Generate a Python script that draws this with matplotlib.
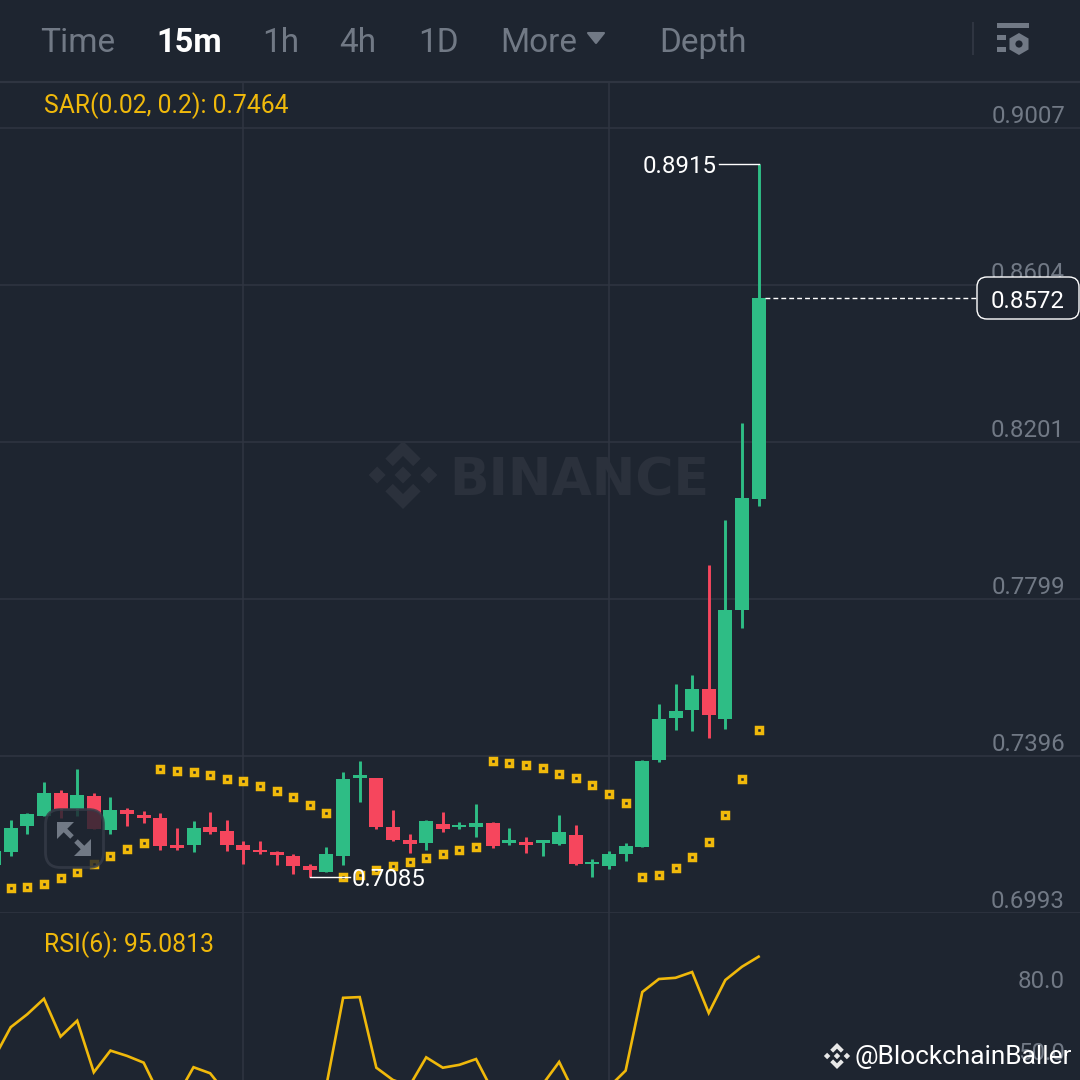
import numpy as np
import matplotlib
matplotlib.use("Agg")
import matplotlib.pyplot as plt
from matplotlib.patches import FancyBboxPatch, Polygon, Circle, Rectangle

plt.rcParams['font.family'] = ['Roboto', 'DejaVu Sans']

# candles, oldest first
opens = [0.7116, 0.7150, 0.7217, 0.7243, 0.7300, 0.7260, 0.7293, 0.7207, 0.7258, 0.7244,
         0.7237, 0.7167, 0.7167, 0.7213, 0.7203, 0.7168, 0.7155, 0.7150, 0.7140, 0.7114,
         0.7098, 0.7140, 0.7339, 0.7339, 0.7214, 0.7180, 0.7172, 0.7221, 0.7213, 0.7215,
         0.7224, 0.7173, 0.7176, 0.7173, 0.7170, 0.7193, 0.7118, 0.7114, 0.7144, 0.7162,
         0.7385, 0.7493, 0.7515, 0.7569, 0.7491, 0.7771, 0.8056]
highs = [0.7152, 0.7233, 0.7250, 0.7328, 0.7309, 0.7362, 0.7300, 0.7290, 0.7262, 0.7254,
         0.7249, 0.7210, 0.7229, 0.7251, 0.7233, 0.7178, 0.7177, 0.7152, 0.7144, 0.7118,
         0.7163, 0.7354, 0.7383, 0.7339, 0.7257, 0.7196, 0.7232, 0.7252, 0.7227, 0.7272,
         0.7226, 0.7211, 0.7188, 0.7180, 0.7244, 0.7220, 0.7131, 0.7152, 0.7173, 0.7386,
         0.7529, 0.7581, 0.7603, 0.7886, 0.8001, 0.8250, 0.8915]
lows = [0.7116, 0.7140, 0.7195, 0.7243, 0.7238, 0.7242, 0.7208, 0.7197, 0.7216, 0.7225,
        0.7154, 0.7155, 0.7150, 0.7197, 0.7152, 0.7119, 0.7144, 0.7117, 0.7094, 0.7085,
        0.7098, 0.7117, 0.7279, 0.7209, 0.7178, 0.7147, 0.7155, 0.7202, 0.7209, 0.7188,
        0.7161, 0.7167, 0.7147, 0.7140, 0.7167, 0.7117, 0.7086, 0.7107, 0.7127, 0.7162,
        0.7381, 0.7462, 0.7461, 0.7443, 0.7466, 0.7724, 0.8037]
closes = [0.7152, 0.7210, 0.7246, 0.7300, 0.7260, 0.7296, 0.7208, 0.7257, 0.7248, 0.7237,
          0.7166, 0.7160, 0.7211, 0.7202, 0.7167, 0.7155, 0.7149, 0.7141, 0.7113, 0.7103,
          0.7144, 0.7336, 0.7346, 0.7214, 0.7180, 0.7170, 0.7229, 0.7209, 0.7220, 0.7224,
          0.7166, 0.7180, 0.7168, 0.7180, 0.7200, 0.7120, 0.7125, 0.7144, 0.7164, 0.7383,
          0.7492, 0.7511, 0.7567, 0.7502, 0.7770, 0.8057, 0.8572]

# one value per candle, the first candle has none
sar = [0.7056, 0.7061, 0.7068, 0.7084, 0.7098, 0.7119, 0.7139, 0.7156, 0.7173,
       0.7362, 0.7357, 0.7354, 0.7346, 0.7338, 0.7331, 0.7318, 0.7306, 0.7291, 0.7271, 0.7249,
       0.7085, 0.7091, 0.7103, 0.7114, 0.7124, 0.7134, 0.7144, 0.7154, 0.7163,
       0.7383, 0.7379, 0.7374, 0.7365, 0.7351, 0.7339, 0.7321, 0.7298, 0.7276,
       0.7085, 0.7091, 0.7109, 0.7137, 0.7175, 0.7244, 0.7337, 0.7464]

rsi = [53.0, 65.8, 71.2, 77.6, 61.9, 68.5, 47.1, 56.1, 53.9, 51.1,
       37.0, 37.0, 49.2, 46.7, 38.0, 34.0, 32.0, 30.0, 26.0, 24.0,
       41.8, 78.0, 78.3, 49.0, 43.9, 41.5, 53.3, 49.0, 50.2, 52.6,
       39.3, 38.0, 36.0, 42.0, 51.4, 37.3, 35.0, 41.0, 47.8, 80.4,
       85.8, 86.3, 88.7, 71.7, 85.4, 90.9, 95.08]

price_ticks = [0.9007, 0.8604, 0.8201, 0.7799, 0.7396, 0.6993]
price_labels = ['0.9007', '0.8604', '0.8201', '0.7799', '0.7396', '0.6993']
rsi_ticks = [80.0, 50.0]
rsi_labels = ['80.0', '50.0']
time_grid = [15, 37]
last_price = 0.8572
top_price = 0.8915
bottom_price = 0.7085

BG = '#1e2530'
GRID = '#2f3541'
GREEN = '#2ebd85'
RED = '#f6465d'
AMBER = '#f0b90b'
GREY = '#717985'
W = 1080

fig = plt.figure(figsize=(10.8, 10.8), dpi=100, facecolor=BG)


def box(top, bottom):
    return [0, 1 - bottom / W, 1, (bottom - top) / W]


ax = fig.add_axes(box(82, 913), facecolor=BG)
ax2 = fig.add_axes(box(913, 1080), facecolor=BG)

x = np.arange(len(closes))
px_per_candle = 16.62
xlim = (5.92 / px_per_candle, (W + 5.92) / px_per_candle)

for a in (ax, ax2):
    a.set_xlim(xlim)
    a.set_xticks(time_grid)
    a.grid(axis='x', color=GRID, lw=1.1)
    a.set_axisbelow(True)
    a.tick_params(length=0, labelbottom=False, labelleft=False)
    for s in a.spines.values():
        s.set_visible(False)

# price panel
px_per_price = 157 / (0.9007 - 0.8604)
ax.set_ylim(0.6993, 0.6993 + 831 / px_per_price)
ax.set_yticks(price_ticks)
ax.grid(axis='y', color=GRID, lw=1.1)

colors = [GREEN if c >= o else RED for o, c in zip(opens, closes)]
ax.vlines(x, lows, highs, colors=colors, lw=2.1, zorder=3)
ax.bar(x, np.abs(np.array(closes) - np.array(opens)), bottom=np.minimum(opens, closes),
       width=14 / px_per_candle, color=colors, zorder=3)
ax.plot(x[1:], sar, ls='none', marker='s', ms=4.2, mew=2.5, mec=AMBER, mfc=BG, zorder=4)

for t, lab in zip(price_ticks, price_labels):
    ax.annotate(lab, xy=(1, t), xycoords=ax.get_yaxis_transform(), xytext=(-15 * 0.72, 11.5 * 0.72),
                textcoords='offset points', ha='right', va='center', fontsize=17.3, color=GREY,
                annotation_clip=False)

# high / low / last price markers
ax.plot([x[-1] - 2.4, x[-1]], [top_price, top_price], color='white', lw=1, zorder=5)
ax.text(x[-1] - 2.5, top_price - 0.0005, '0.8915', color='white', fontsize=17.3, ha='right', va='center', zorder=5)
ax.plot([x[19], x[19] + 2.4], [bottom_price, bottom_price], color='white', lw=1, zorder=5)
ax.text(x[19] + 2.5, bottom_price - 0.0005, '0.7085', color='white', fontsize=17.3, ha='left', va='center', zorder=5)
ax.plot([x[-1] + 0.4, 59.2], [last_price, last_price], color='white', lw=1, ls=(0, (3.5, 2.2)), zorder=5)

# rsi panel
ax2.set_ylim(80 - 87 / 2.41, 80 + 80 / 2.41)
ax2.plot(x, rsi, color=AMBER, lw=1.9, solid_joinstyle='miter')
for t, lab in zip(rsi_ticks, rsi_labels):
    ax2.annotate(lab, xy=(1, t), xycoords=ax2.get_yaxis_transform(), xytext=(-15 * 0.72, 11.5 * 0.72),
                 textcoords='offset points', ha='right', va='center', fontsize=17.3, color=GREY,
                 annotation_clip=False)

# everything else sits on a pixel overlay
ov = fig.add_axes([0, 0, 1, 1], zorder=10)
ov.set_xlim(0, W)
ov.set_ylim(W, 0)
ov.axis('off')
ov.patch.set_alpha(0)


def logo(cx, cy, r, color, **kw):
    top = np.array([(0, -1), (0.52, -0.48), (0.3, -0.26), (0, -0.56), (-0.3, -0.26), (-0.52, -0.48)])
    bottom = top * [1, -1]
    diamond = np.array([(0, -0.25), (0.25, 0), (0, 0.25), (-0.25, 0)])
    for shape in (top, bottom, diamond, diamond + [0.76, 0], diamond - [0.76, 0]):
        ov.add_patch(Polygon(shape * r + [cx, cy], closed=True, fc=color, ec='none', **kw))


# header
ov.plot([0, W], [82, 82], color=GRID, lw=1.6)
tabs = [('Time', 40, GREY, 'normal'), ('15m', 156, 'white', 'bold'), ('1h', 262, GREY, 'normal'),
        ('4h', 339, GREY, 'normal'), ('1D', 418, GREY, 'normal'), ('More', 500, GREY, 'normal'),
        ('Depth', 659, GREY, 'normal')]
for lab, tx, col, wt in tabs:
    size = 23.5 if wt == 'bold' else 24
    ov.text(tx, 43, lab, color=col, fontsize=size, fontweight=wt, ha='left', va='center')
ov.add_patch(Polygon([(588, 33), (604, 33), (596, 43)], closed=True, fc=GREY, ec=GREY, lw=1.5, joinstyle='round'))
ov.add_patch(Rectangle((972, 22), 2, 33, fc=GRID, ec='none'))
ov.add_patch(Rectangle((997, 23), 32, 5, fc=GREY, ec='none'))
ov.add_patch(Rectangle((997, 35), 9, 5, fc=GREY, ec='none'))
ov.add_patch(Rectangle((997, 47), 9, 5, fc=GREY, ec='none'))
ang = np.deg2rad(np.arange(30, 390, 60))
ov.add_patch(Polygon(np.c_[1019 + 11 * np.cos(ang), 44 + 11 * np.sin(ang)], closed=True, fc=GREY, ec='none'))
ov.add_patch(Circle((1019, 44), 3.6, fc=BG, ec='none'))

# indicator captions
ov.text(44, 106, 'SAR(0.02, 0.2): 0.7464', color=AMBER, fontsize=17.7, ha='left', va='center')
ov.text(44, 945, 'RSI(6): 95.0813', color=AMBER, fontsize=17.8, ha='left', va='center')

# watermark
logo(403, 475, 34, '#2b313c')
ov.text(449, 481, 'BINANCE', color='#2b313c', fontsize=37.5, fontweight='bold', family='DejaVu Sans',
        ha='left', va='center')

# last price tag
ov.add_patch(FancyBboxPatch((983, 283), 90, 30, boxstyle='round,pad=6,rounding_size=10',
                            fc=BG, ec='white', lw=1))
ov.text(1028, 301, '0.8572', color='white', fontsize=17.3, ha='center', va='center')

# expand button
ov.add_patch(FancyBboxPatch((57, 821), 35, 35, boxstyle='round,pad=11.5,rounding_size=15',
                            fc=BG, ec='#363c48', lw=2, alpha=0.8))
ov.add_patch(Polygon([(57, 822), (74, 822), (57, 839)], closed=True, fc=GREY, ec='none'))
ov.add_patch(Polygon([(91, 839), (91, 856), (74, 856)], closed=True, fc=GREY, ec='none'))
ov.plot([62, 72], [827, 837], color=GREY, lw=3.6, solid_capstyle='butt')
ov.plot([76, 86], [841, 851], color=GREY, lw=3.6, solid_capstyle='butt')

# author mark
logo(837, 1056, 13, '#e8e8e8')
ov.text(855, 1057, '@BlockchainBaller', color='white', fontsize=18.9, ha='left', va='center')

fig.savefig('out.png', dpi=100, facecolor=BG)
